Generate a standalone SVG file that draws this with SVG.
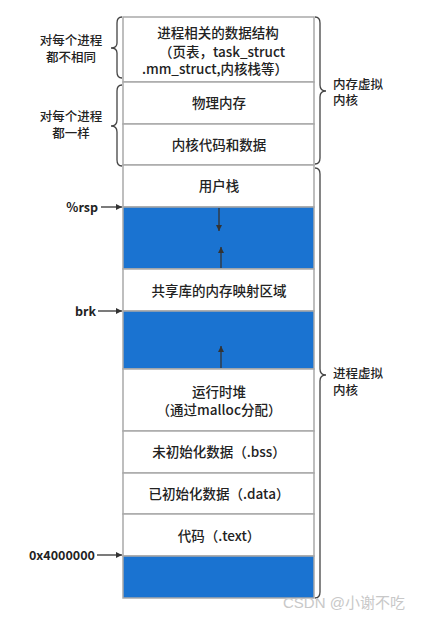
<svg xmlns="http://www.w3.org/2000/svg" width="435" height="620" viewBox="0 0 435 620">
<defs>
<style>
.t{font-family:"Noto Sans CJK SC","Noto Sans",sans-serif;font-size:13.5px;font-weight:500;fill:#222;text-anchor:middle;}
.s{font-family:"Noto Sans CJK SC","Noto Sans",sans-serif;font-size:12.5px;font-weight:500;fill:#222;text-anchor:middle;}
.l{font-family:"Noto Sans CJK SC","Noto Sans",sans-serif;font-size:12.5px;font-weight:500;fill:#222;}
.b{font-weight:bold;}
.cell{fill:#fff;stroke:#a9a9a9;stroke-width:1.5;}
.blue{fill:#1a73d1;stroke:#a9a9a9;stroke-width:1.5;}
.brace{fill:none;stroke:#444;stroke-width:1.3;}
.arr{stroke:#333;stroke-width:1.3;fill:none;}
</style>
<marker id="ah" viewBox="0 0 10 10" refX="10" refY="5" markerWidth="8" markerHeight="6" markerUnits="userSpaceOnUse" orient="auto">
<path d="M0,0 L10,5 L0,10 z" fill="#333"/>
</marker>
</defs>
<rect width="435" height="620" fill="#fff"/>

<g id="kernel-data"><rect class="cell" x="123" y="17" width="191" height="65"/>
<text class="t" x="218" y="38">进程相关的数据结构</text>
<text class="t" x="222" y="57">（页表，task_struct</text>
<text class="t" x="215" y="74">.mm_struct,内核栈等）</text></g>
<g id="phys-mem"><rect class="cell" x="123" y="82" width="191" height="42"/>
<text class="t" x="219" y="108">物理内存</text></g>
<g id="kernel-code"><rect class="cell" x="123" y="124" width="191" height="41"/>
<text class="t" x="219" y="150">内核代码和数据</text></g>
<g id="user-stack"><rect class="cell" x="123" y="165" width="191" height="42"/>
<text class="t" x="219" y="191">用户栈</text></g>
<g id="blue1"><rect class="blue" x="123" y="207" width="191" height="62"/></g>
<g id="shared-lib"><rect class="cell" x="123" y="269" width="191" height="42"/>
<text class="t" x="219" y="296">共享库的内存映射区域</text></g>
<g id="blue2"><rect class="blue" x="123" y="311" width="191" height="58"/></g>
<g id="heap"><rect class="cell" x="123" y="369" width="191" height="62"/>
<text class="t" x="219" y="397">运行时堆</text>
<text class="t" x="219" y="415">（通过malloc分配）</text></g>
<g id="bss"><rect class="cell" x="123" y="431" width="191" height="42"/>
<text class="t" x="219" y="457">未初始化数据（.bss）</text></g>
<g id="data"><rect class="cell" x="123" y="473" width="191" height="41"/>
<text class="t" x="219" y="499">已初始化数据（.data）</text></g>
<g id="text-seg"><rect class="cell" x="123" y="514" width="191" height="42"/>
<text class="t" x="219" y="541">代码（.text）</text></g>
<g id="blue3"><rect class="blue" x="123" y="556" width="191" height="42"/></g>

<g id="label-diff"><text class="s" x="71" y="45">对每个进程</text><text class="s" x="71" y="62">都不相同</text></g>
<g id="label-same"><text class="s" x="71" y="121">对每个进程</text><text class="s" x="71" y="138">都一样</text></g>
<g id="label-kvm"><text class="l" x="333" y="89">内存虚拟</text><text class="l" x="333" y="105">内核</text></g>
<g id="label-pvm"><text class="l" x="333" y="378">进程虚拟</text><text class="l" x="333" y="395">内核</text></g>
<g id="label-rsp"><text class="l b" x="98" y="212" text-anchor="end">%rsp</text></g>
<g id="label-brk"><text class="l b" x="96" y="316" text-anchor="end">brk</text></g>
<g id="label-addr"><text class="l b" x="95" y="560" text-anchor="end">0x4000000</text></g>

<g id="braces">
<path class="brace" d="M122,17 Q117,17 117,23 L117,43 Q117,48 111,48 Q117,48 117,53 L117,72 Q117,78 122,78"/>
<path class="brace" d="M122,85 Q117,85 117,91 L117,120 Q117,126 111,126 Q117,126 117,132 L117,160 Q117,166 122,166"/>
<path class="brace" d="M315,17 Q320,17 320,23 L320,85 Q320,91 326,91 Q320,91 320,97 L320,158 Q320,164 315,164"/>
<path class="brace" d="M315,168 Q320,168 320,174 L320,369 Q320,375 326,375 Q320,375 320,381 L320,592 Q320,598 315,598"/>
</g>

<g id="connectors">
<line class="arr" x1="101" y1="207" x2="122" y2="207" marker-end="url(#ah)"/>
<line class="arr" x1="98" y1="311" x2="122" y2="311" marker-end="url(#ah)"/>
<line class="arr" x1="97" y1="555" x2="122" y2="555" marker-end="url(#ah)"/>
<line class="arr" x1="219" y1="208" x2="219" y2="231" marker-end="url(#ah)"/>
<line class="arr" x1="221" y1="268" x2="221" y2="247" marker-end="url(#ah)"/>
<line class="arr" x1="221" y1="368" x2="221" y2="346" marker-end="url(#ah)"/>
</g>

<text x="283" y="608" style="font-family:'Liberation Sans','Noto Sans CJK SC',sans-serif;font-size:15px;fill:#c8c8c8;">CSDN @小谢不吃</text>
</svg>
